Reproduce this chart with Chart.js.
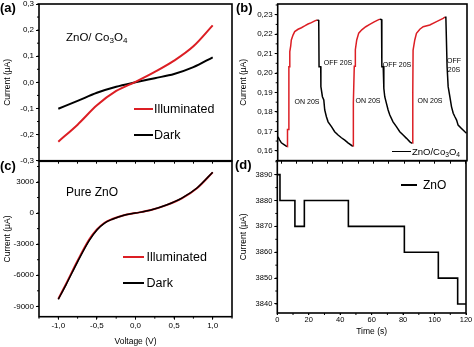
<!DOCTYPE html>
<html>
<head>
<meta charset="utf-8">
<script src="https://cdn.jsdelivr.net/npm/chart.js@4.4.1/dist/chart.umd.min.js"></script>
<style>
body { margin: 0; background: #fff; font-family: 'Liberation Sans', Arial, sans-serif; }
#wrap { position: relative; width: 474px; height: 347px; overflow: hidden; background: #fff; }
canvas { position: absolute; }
.t { position: absolute; white-space: nowrap; color: #000; line-height: 1; }
.c { transform: translateX(-50%); }
.lg { position: absolute; height: 0; border-top: 2px solid #000; }
sub { font-size: 70%; vertical-align: -0.3em; line-height: 0; }
</style>
</head>
<body>
<div id="wrap">
  <canvas id="ca" width="236" height="170" style="left:0;top:0;width:236px;height:170px"></canvas>
  <canvas id="cb" width="238" height="170" style="left:236px;top:0;width:238px;height:170px"></canvas>
  <canvas id="cc" width="236" height="197" style="left:0;top:150px;width:236px;height:197px"></canvas>
  <canvas id="cd" width="238" height="197" style="left:236px;top:150px;width:238px;height:197px"></canvas>

  <div class="t" style="left:0;top:1px;font-size:13px;font-weight:bold">(a)</div>
  <div class="t" style="left:236px;top:1px;font-size:13px;font-weight:bold">(b)</div>
  <div class="t" style="left:0;top:159px;font-size:13px;font-weight:bold">(c)</div>
  <div class="t" style="left:235px;top:158px;font-size:13px;font-weight:bold">(d)</div>

  <!-- panel a -->
  <div class="t" style="left:66px;top:32px;font-size:11.5px">ZnO/ Co<sub>3</sub>O<sub>4</sub></div>
  <div class="lg" style="left:134px;top:107.7px;width:18.5px;border-color:#dc1e24"></div>
  <div class="t" style="left:154px;top:102.5px;font-size:12.5px">Illuminated</div>
  <div class="lg" style="left:134px;top:134px;width:18.5px"></div>
  <div class="t" style="left:154px;top:129px;font-size:12.5px">Dark</div>

  <!-- panel b -->
  <div class="t c" style="left:307px;top:97.5px;font-size:7px">ON 20S</div>
  <div class="t c" style="left:368px;top:96.5px;font-size:7px">ON 20S</div>
  <div class="t c" style="left:430px;top:96.5px;font-size:7px">ON 20S</div>
  <div class="t c" style="left:338px;top:58.5px;font-size:7px">OFF 20S</div>
  <div class="t c" style="left:397px;top:60.5px;font-size:7px">OFF 20S</div>
  <div class="t c" style="left:454px;top:56.5px;font-size:7px">OFF</div>
  <div class="t c" style="left:454px;top:66px;font-size:7px">20S</div>
  <div class="lg" style="left:392px;top:150.7px;width:19px;border-top-width:1.5px"></div>
  <div class="t" style="left:412px;top:147px;font-size:9.5px">ZnO/Co<sub>3</sub>O<sub>4</sub></div>

  <!-- panel c -->
  <div class="t" style="left:66px;top:185.5px;font-size:12px">Pure ZnO</div>
  <div class="lg" style="left:123px;top:255.7px;width:21px;border-color:#dc1e24"></div>
  <div class="t" style="left:146.5px;top:250.5px;font-size:12.5px">Illuminated</div>
  <div class="lg" style="left:123px;top:282.3px;width:21px"></div>
  <div class="t" style="left:146.5px;top:277px;font-size:12.5px">Dark</div>

  <!-- panel d -->
  <div class="lg" style="left:400.5px;top:184px;width:16px"></div>
  <div class="t" style="left:423px;top:179px;font-size:12px">ZnO</div>
</div>

<script>
const RED = '#dc1e24';

// (a) ZnO/Co3O4 I-V
const aVoltage = [-1, -0.75, -0.5, -0.25, 0, 0.25, 0.5, 0.75, 1];
const aIlluminated = [-0.227, -0.162, -0.088, -0.033, 0.002, 0.040, 0.083, 0.138, 0.218];
const aDark = [-0.101, -0.071, -0.040, -0.017, 0.000, 0.016, 0.032, 0.058, 0.096];
const aXTicks = [-1, -0.75, -0.5, -0.25, 0, 0.25, 0.5, 0.75, 1];
const aYTicks = [-0.3, -0.2, -0.1, 0, 0.1, 0.2, 0.3];

// (b) ZnO/Co3O4 switching
const bTime = [-2.4, -1.3, -0.2, 2.0, 3.5,
  3.7, 3.8, 4.6, 4.7, 5.2, 5.3, 5.9, 6.3, 7.4, 8.5, 10.7, 12.9, 15.0, 17.2, 19.4, 21.6, 23.3,
  24.2, 24.4, 25.5, 25.6, 26.6, 27.5, 28.1, 29.2, 30.3, 32.5, 34.6, 36.8, 39.0, 41.2, 43.3, 45.9,
  46.7, 46.8, 47.4, 48.0, 48.1, 49.0, 50.3, 52.3, 54.9, 57.5, 60.1, 62.7, 64.1,
  65.2, 65.4, 66.3, 66.7, 67.3, 68.4, 69.5, 70.6, 72.7, 74.9, 77.1, 79.3, 81.5, 83.7, 84.8,
  85.4, 85.6, 85.8, 86.9, 88.0, 90.2, 92.4, 96.7, 101.1, 105.4, 106.5,
  107.2, 108.0, 108.7, 109.8, 110.9, 112.0, 113.1, 114.2, 115.2, 117.4, 119.6, 120.7];
const bCurrent = [0.1672, 0.1655, 0.1641, 0.1629, 0.1621,
  0.1621, 0.1710, 0.1710, 0.2032, 0.2032, 0.2110, 0.2140, 0.2170, 0.2195, 0.2213, 0.2225, 0.2233, 0.2242, 0.2252, 0.2259, 0.2268, 0.2273,
  0.2270, 0.2032, 0.2032, 0.1930, 0.1878, 0.1861, 0.1810, 0.1775, 0.1749, 0.1724, 0.1698, 0.1681, 0.1667, 0.1655, 0.1641, 0.1626,
  0.1625, 0.1850, 0.2035, 0.2035, 0.2120, 0.2170, 0.2205, 0.2222, 0.2238, 0.2250, 0.2262, 0.2272, 0.2277,
  0.2275, 0.2032, 0.2032, 0.1921, 0.1878, 0.1844, 0.1810, 0.1784, 0.1749, 0.1724, 0.1698, 0.1681, 0.1664, 0.1646, 0.1640,
  0.1640, 0.1900, 0.2118, 0.2170, 0.2204, 0.2225, 0.2238, 0.2247, 0.2264, 0.2281, 0.2287,
  0.2287, 0.2032, 0.1930, 0.1878, 0.1826, 0.1793, 0.1775, 0.1758, 0.1732, 0.1715, 0.1698, 0.1690];
const bLightOn = [[3.7, 23.3], [46.7, 64.1], [85.4, 106.5]];
const bXTicks = [0, 10, 20, 30, 40, 50, 60, 70, 80, 90, 100, 110, 120];
const bYTicks = [0.16, 0.17, 0.18, 0.19, 0.20, 0.21, 0.22, 0.23];

// (c) pure ZnO I-V
const cVoltage = [-1, -0.9, -0.75, -0.6, -0.5, -0.4, -0.3, -0.15, 0, 0.2, 0.4, 0.6, 0.8, 1];
const cIlluminated = [-8280, -6850, -4600, -2560, -1580, -930, -570, -200, 0, 300, 770, 1420, 2420, 3930];
const cDark = [-8320, -6920, -4700, -2660, -1630, -960, -590, -200, 0, 300, 780, 1450, 2450, 3950];
const cXTicks = [-1, -0.5, 0, 0.5, 1];
const cYTicks = [-9000, -6000, -3000, 0, 3000];

// (d) pure ZnO switching
const dTime = [0, 1.7, 11.2, 17.2, 45.2, 80.8, 102.4, 114.7, 120];
const dCurrent = [3890, 3880, 3870, 3880, 3870, 3860, 3850, 3840, 3840];
const dXTicks = [0, 20, 40, 60, 80, 100, 120];
const dYTicks = [3840, 3850, 3860, 3870, 3880, 3890];

Chart.defaults.font.family = "'Liberation Sans', Arial, sans-serif";
Chart.defaults.color = '#000';

const comma = d => v => v.toFixed(d).replace('.', ',');
const xy = (xs, ys) => xs.map((x, i) => ({x: x, y: ys[i]}));

// black frame round the plot area
const frame = {
  id: 'frame',
  afterDatasetsDraw(chart) {
    const a = chart.chartArea, ctx = chart.ctx;
    ctx.save();
    ctx.strokeStyle = '#000';
    ctx.lineWidth = 1.6;
    ctx.strokeRect(a.left, a.top, a.right - a.left, a.bottom - a.top);
    ctx.restore();
  }
};

// short minor ticks between the major ones
const minorTicks = {
  id: 'minorTicks',
  afterDraw(chart, args, opts) {
    const ctx = chart.ctx;
    ctx.save();
    ctx.strokeStyle = '#000';
    ctx.lineWidth = 1;
    for (const id in (opts.steps || {})) {
      const s = chart.scales[id], step = opts.steps[id];
      const first = Math.ceil(s.min / step - 1e-6);
      for (let i = first; i * step <= s.max + 1e-9; i++) {
        const p = s.getPixelForValue(i * step);
        ctx.beginPath();
        if (s.isHorizontal()) { ctx.moveTo(p, s.top); ctx.lineTo(p, s.top + 2); }
        else { ctx.moveTo(s.right, p); ctx.lineTo(s.right - 2, p); }
        ctx.stroke();
      }
    }
    ctx.restore();
  }
};

function axis(dir, o) {
  return {
    type: 'linear', min: o.min, max: o.max,
    afterBuildTicks: s => { s.ticks = o.ticks.map(v => ({value: v})); },
    afterFit: s => {
      if (dir === 'x') { s.height = o.fit; s.paddingLeft = 0; s.paddingRight = 0; }
      else { s.width = o.fit; s.paddingTop = 0; s.paddingBottom = 0; }
    },
    grid: {drawOnChartArea: false, tickLength: o.tickLen || 3, color: '#000'},
    border: {display: false},
    ticks: {display: !!o.fmt, callback: o.fmt || (() => ''), font: {size: o.size || 8},
            padding: o.pad == null ? 2 : o.pad, autoSkip: false, maxRotation: 0},
    title: o.title ? {display: true, text: o.title, font: {size: 8.5}, padding: o.tpad || {top: 3, bottom: 0}}
                   : {display: false}
  };
}

function makeChart(id, datasets, pad, xOpt, yOpt, minor) {
  return new Chart(document.getElementById(id), {
    type: 'line',
    data: {datasets: datasets},
    options: {
      responsive: false,
      animation: false,
      layout: {padding: pad},
      elements: {point: {radius: 0}},
      plugins: {legend: {display: false}, tooltip: {enabled: false}, minorTicks: {steps: minor}},
      scales: {x: axis('x', xOpt), y: axis('y', yOpt)}
    },
    plugins: [frame, minorTicks]
  });
}

// (a)
makeChart('ca', [
  {data: xy(aVoltage, aIlluminated), borderColor: RED, borderWidth: 2, cubicInterpolationMode: 'monotone'},
  {data: xy(aVoltage, aDark), borderColor: '#000', borderWidth: 2, cubicInterpolationMode: 'monotone'}
], {left: 0, top: 4, right: 4, bottom: 0},
  {min: -1.25, max: 1.25, ticks: aXTicks, fit: 9.3},
  {min: -0.3, max: 0.3, ticks: aYTicks, fit: 39, fmt: comma(1), title: 'Current (\u03bcA)'},
  {y: 0.05});

// (b)
const lightOn = (x0, x1) => bLightOn.some(r => x0 >= r[0] - 1e-6 && x1 <= r[1] + 1e-6);
makeChart('cb', [
  {data: xy(bTime, bCurrent), borderColor: '#000', borderWidth: 1.5,
   segment: {borderColor: c => lightOn(c.p0.parsed.x, c.p1.parsed.x) ? RED : '#000'}}
], {left: 0, top: 4, right: 7, bottom: 0},
  {min: -2.6, max: 121, ticks: bXTicks, fit: 9.3},
  {min: 0.1549, max: 0.2355, ticks: bYTicks, fit: 41.7, fmt: comma(2), title: 'Current (\u03bcA)'},
  {y: 0.005});

// (c)
makeChart('cc', [
  {data: xy(cVoltage, cDark), borderColor: '#000', borderWidth: 1.5, cubicInterpolationMode: 'monotone'},
  {data: xy(cVoltage, cIlluminated), borderColor: RED, borderWidth: 2, cubicInterpolationMode: 'monotone'}
], {left: 0, top: 11.3, right: 4, bottom: 0},
  {min: -1.25, max: 1.25, ticks: cXTicks, fit: 30.3, fmt: comma(1), pad: 1,
   title: 'Voltage (V)', tpad: {top: 0, bottom: 0}},
  {min: -10000, max: 5000, ticks: cYTicks, fit: 39, fmt: v => String(v), title: 'Current (\u03bcA)'},
  {x: 0.25, y: 1500});

// (d)
makeChart('cd', [
  {data: xy(dTime, dCurrent), borderColor: '#000', borderWidth: 1.6, stepped: true}
], {left: 0, top: 10.7, right: 8, bottom: 0},
  {min: 0, max: 120, ticks: dXTicks, fit: 34, fmt: v => String(v), size: 7.5, pad: 0, tickLen: 2,
   title: 'Time (s)', tpad: {top: 0, bottom: 10.6}},
  {min: 3836.5, max: 3895.4, ticks: dYTicks, fit: 41.3, fmt: v => String(v), size: 7.5, title: 'Current (\u03bcA)'},
  {x: 10, y: 5});
</script>
</body>
</html>
